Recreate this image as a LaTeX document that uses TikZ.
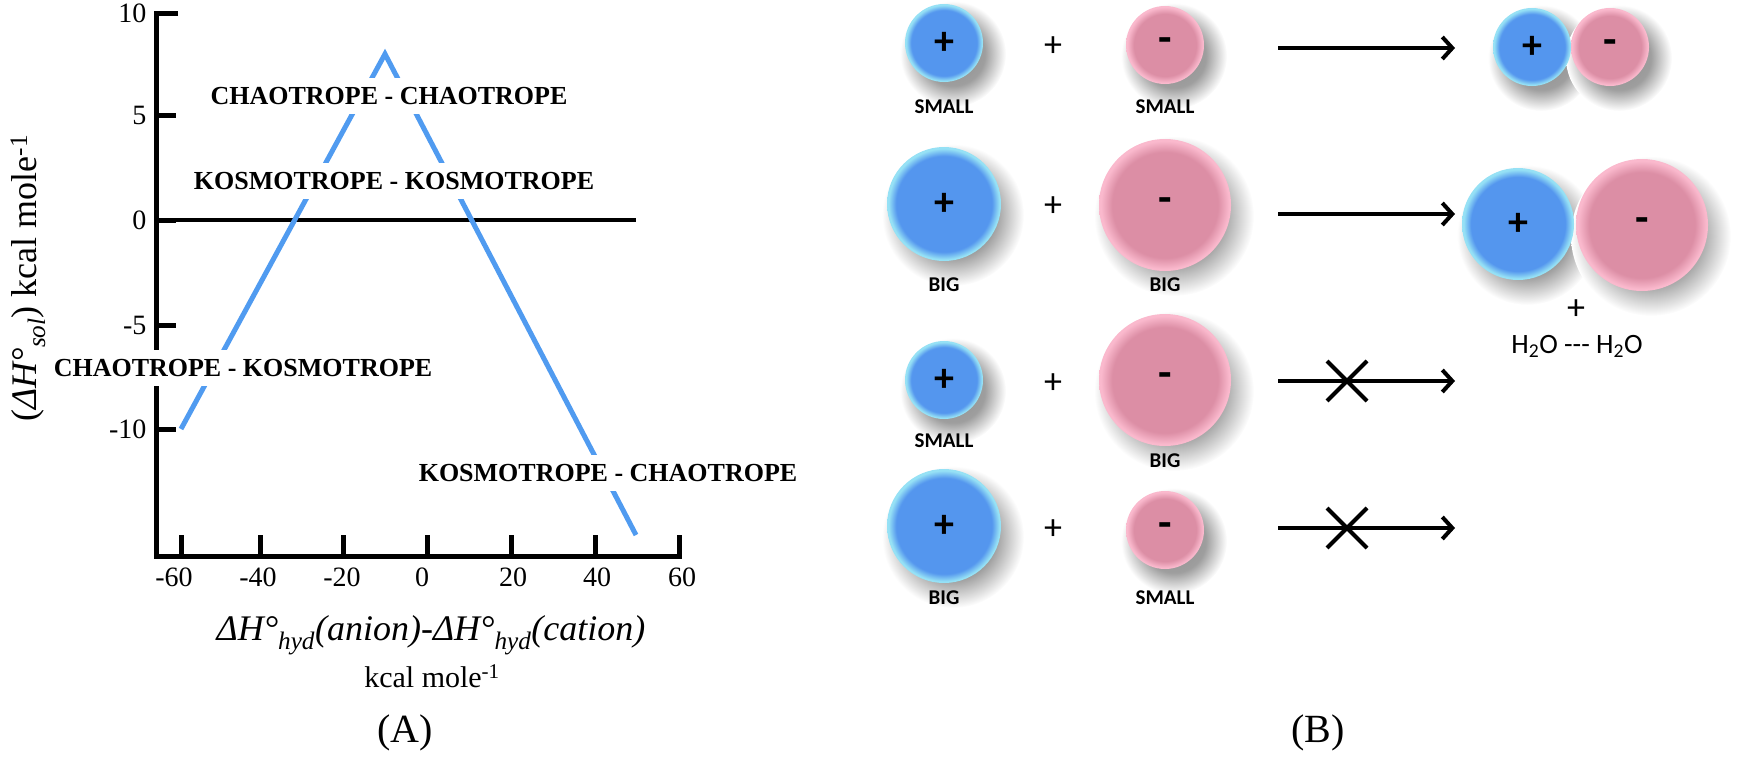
\documentclass[tikz,border=0pt]{standalone}
\usepackage{fontspec}
\usetikzlibrary{arrows.meta}
\setmainfont{Liberation Serif}
\newfontfamily\lblfont{Carlito}
\definecolor{bcore}{RGB}{84,150,238}
\definecolor{brim}{RGB}{150,225,245}
\definecolor{pcore}{RGB}{220,142,165}
\definecolor{prim}{RGB}{250,185,205}
\definecolor{plotblue}{RGB}{80,155,240}
\pgfdeclareradialshading{bluesph}{\pgfpoint{0bp}{0bp}}{color(0bp)=(bcore); color(21bp)=(bcore); color(24.3bp)=(brim); color(25bp)=(brim); color(50bp)=(brim)}
\pgfdeclareradialshading{pinksph}{\pgfpoint{0bp}{0bp}}{color(0bp)=(pcore); color(20bp)=(pcore); color(24.3bp)=(prim); color(25bp)=(prim); color(50bp)=(prim)}
\pgfdeclareradialshading{shadsph}{\pgfpoint{0bp}{0bp}}{color(0bp)=(black!45); color(15bp)=(black!38); color(25bp)=(white); color(50bp)=(white)}
\begin{document}
\begin{tikzpicture}[x=1pt,y=-1pt,
  ax/.style={line width=5pt},
  tl/.style={font=\fontsize{28}{28}\selectfont},
  reg/.style={fill=white,inner sep=9pt,font=\bfseries\fontsize{26}{26}\selectfont},
  sz/.style={font=\lblfont\bfseries\fontsize{21}{21}\selectfont},
  sgn/.style={font=\lblfont\bfseries\fontsize{40}{40}\selectfont},
  msgn/.style={font=\lblfont\bfseries\fontsize{44}{44}\selectfont},
  psgn/.style={font=\lblfont\fontsize{36}{36}\selectfont},
  arr/.style={line width=4pt,-{Straight Barb[length=10pt,width=22pt]}}]
\useasboundingbox (0,0) rectangle (1752,758);
% axes
\draw[ax] (178,13) -- (156,13) -- (156,556) -- (679,556) -- (679,535);
\foreach \y in {115,220,325,429} \draw[ax] (156,\y) -- (176,\y);
\foreach \x in {181,260,343,427,511,595} \draw[ax] (\x,556) -- (\x,535);
\draw[line width=4pt] (156,220) -- (636,220);
\draw[plotblue,line width=5pt] (181,429) -- (385,54) -- (636,535);
% region labels
\node[reg] (cc) at (389,96) {CHAOTROPE - CHAOTROPE};
\node[reg] (kk) at (394,181) {KOSMOTROPE - KOSMOTROPE};
\node[reg] (ck) at (243,368) {CHAOTROPE - KOSMOTROPE};
\node[reg] (kc) at (608,473) {KOSMOTROPE - CHAOTROPE};
% tick labels
\foreach \y/\t in {13/10,115/5,220/0,325/-5,429/-10} \node[tl,anchor=east] (yt\t) at (150,\y) {\t};
\foreach \x/\t in {174/-60,258/-40,342/-20,422/0,513/20,597/40,682/60} \node[tl] (xt\t) at (\x,577) {\t};
\node[rotate=90,font=\fontsize{36}{36}\selectfont] (ylab) at (28,278) {(\textit{ΔH°}\textsubscript{\textit{sol}}) kcal mole\textsuperscript{-1}};
\node[font=\itshape\fontsize{36}{36}\selectfont] (xlab) at (431,635) {ΔH°\textsubscript{hyd}(anion)-ΔH°\textsubscript{hyd}(cation)};
\node[font=\fontsize{30}{30}\selectfont] (xunit) at (432,676) {kcal mole\textsuperscript{-1}};
\node[font=\fontsize{40}{40}\selectfont] (A) at (405,733) {(A)};
\node[font=\fontsize{40}{40}\selectfont] (B) at (1318,733) {(B)};
% spheres: shadows first
\foreach \x/\y/\r in {944/43/39,1165/45/39,944/204/57,1165/205/66,944/380/39,1165/380/66,944/526/57,1165/530/39,1532/47/39,1610/47/39,1518/224/56,1642/225/66}
  \shade[shading=shadsph] (\x+9,\y+11) circle (\r+14);
\newcommand{\bion}[4]{\shade[shading=bluesph] (#2,#3) circle (#4); \node[sgn] (#1) at (#2,#3) {+};}
\newcommand{\pion}[4]{\shade[shading=pinksph] (#2,#3) circle (#4); \node[msgn] (#1) at (#2,#3) {-};}
\bion{a1}{944}{43}{39}
\pion{b1}{1165}{45}{39}
\bion{a2}{944}{204}{57}
\pion{b2}{1165}{205}{66}
\bion{a3}{944}{380}{39}
\pion{b3}{1165}{380}{66}
\bion{a4}{944}{526}{57}
\pion{b4}{1165}{530}{39}
\pion{d1}{1610}{47}{39}
\bion{c1}{1532}{47}{39}
\pion{d2}{1642}{225}{66}
\bion{c2}{1518}{224}{56}
\foreach \y/\n in {47/1,207/2,384/3,530/4} \node[psgn] (pl\n) at (1053,\y) {+};
\node[sz] (l1a) at (944,107) {SMALL};
\node[sz] (l1b) at (1165,107) {SMALL};
\node[sz] (l2a) at (944,285) {BIG};
\node[sz] (l2b) at (1165,285) {BIG};
\node[sz] (l3a) at (944,441) {SMALL};
\node[sz] (l3b) at (1165,461) {BIG};
\node[sz] (l4a) at (944,598) {BIG};
\node[sz] (l4b) at (1165,598) {SMALL};
\node[psgn] (pw) at (1576,310) {+};
\node[font=\lblfont\fontsize{28}{28}\selectfont] (water) at (1577,346) {H\textsubscript{2}O --- H\textsubscript{2}O};
% arrows
\foreach \y/\n in {48/1,214/2,381/3,528/4} {
  \coordinate (s\n) at (1278,\y); \coordinate (e\n) at (1455,\y);
  \draw[arr] (s\n) -- (e\n);}
\foreach \y in {381,528} \draw[line width=4pt] (1327,\y-20) -- (1367,\y+20) (1327,\y+20) -- (1367,\y-20);
\end{tikzpicture}
\end{document}
